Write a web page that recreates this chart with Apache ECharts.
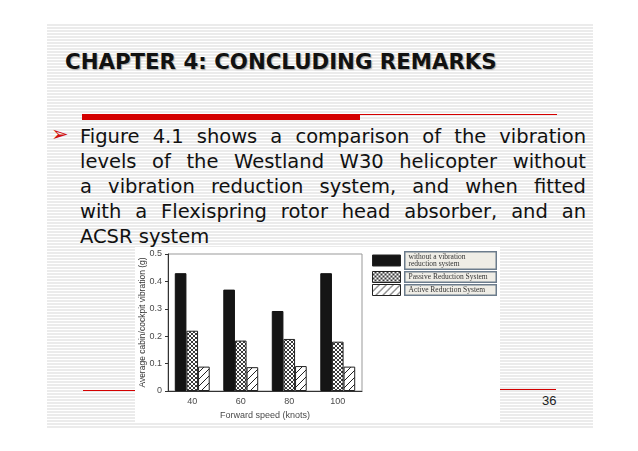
<!DOCTYPE html>
<html lang="en">
<head>
  <meta charset="UTF-8" />
  <title>Chapter 4: Concluding Remarks</title>
  <script src="https://cdn.jsdelivr.net/npm/echarts@6/dist/echarts.min.js"></script>
  <style>
    html, body {
      margin: 0;
      padding: 0;
      width: 638px;
      height: 451px;
      background: #ffffff;
      overflow: hidden;
      font-family: 'DejaVu Sans', Verdana, sans-serif;
    }
    #slide {
      position: absolute;
      left: 47px;
      top: 23px;
      width: 546px;
      height: 406px;
      background: repeating-linear-gradient(to bottom, #ffffff 0px, #ffffff 1px, #ebebeb 1px, #ebebeb 3px);
    }
    #title {
      position: absolute;
      left: 65px;
      top: 49px;
      font-weight: bold;
      font-size: 21.3px;
      color: #111;
      text-shadow: 1px 1px 1px #aaa;
      white-space: nowrap;
    }
    .redbar { position: absolute; background: #d40000; }
    #bullet {
      position: absolute;
      left: 51px;
      top: 122px;
      font-size: 21px;
      color: #d01010;
    }
    #body {
      position: absolute;
      left: 80px;
      top: 124px;
      width: 506px;
      font-size: 19.5px;
      line-height: 25px;
      color: #111;
    }
    #body .ln {
      white-space: nowrap;
      text-align: justify;
      text-align-last: justify;
    }
    #body .ln.last { text-align-last: left; }
    #chart {
      position: absolute;
      left: 135px;
      top: 247px;
      width: 365px;
      height: 175px;
      background: #ffffff;
    }
    #pagenum {
      position: absolute;
      left: 542px;
      top: 393px;
      font-family: 'Liberation Sans', Arial, sans-serif;
      font-size: 13px;
      color: #222;
    }
  </style>
</head>
<body>
  <div id="slide"></div>
  <div id="title">CHAPTER 4: CONCLUDING REMARKS</div>
  <div class="redbar" style="left:82px;top:114px;width:278px;height:6px"></div>
  <div class="redbar" style="left:360px;top:114px;width:197px;height:1px"></div>
  <div id="bullet">➢</div>
  <div id="body">
    <div class="ln">Figure 4.1 shows a comparison of the vibration</div>
    <div class="ln">levels of the Westland W30 helicopter without</div>
    <div class="ln">a vibration reduction system, and when fitted</div>
    <div class="ln">with a Flexispring rotor head absorber, and an</div>
    <div class="ln last">ACSR system</div>
  </div>
  <div class="redbar" style="left:83px;top:390px;width:53px;height:1px"></div>
  <div class="redbar" style="left:500px;top:389px;width:56px;height:1px"></div>
  <div id="pagenum">36</div>
  <div id="chart"></div>
  <script>
    const speeds = ['40', '60', '80', '100'];
    const withoutSystem = [0.43, 0.37, 0.292, 0.43];
    const passiveSystem = [0.22, 0.184, 0.19, 0.18];
    const activeSystem = [0.089, 0.087, 0.091, 0.089];
    const seriesNames = ['without a vibration\nreduction system', 'Passive Reduction System', 'Active Reduction System'];
    const yTicks = [0, 0.1, 0.2, 0.3, 0.4, 0.5];

    // dotted pattern for the passive bars
    function dotPattern() {
      const c = document.createElement('canvas');
      c.width = 4; c.height = 4;
      const ctx = c.getContext('2d');
      ctx.fillStyle = '#3a3a3a';
      ctx.fillRect(0, 0, 4, 4);
      ctx.fillStyle = '#ffffff';
      ctx.fillRect(0, 0, 2, 2);
      ctx.fillRect(2, 2, 2, 2);
      return { image: c, repeat: 'repeat' };
    }

    // diagonal hatch for the active bars
    function hatchPattern() {
      const s = 7;
      const c = document.createElement('canvas');
      c.width = s; c.height = s;
      const ctx = c.getContext('2d');
      ctx.fillStyle = '#ffffff';
      ctx.fillRect(0, 0, s, s);
      ctx.strokeStyle = '#222';
      ctx.lineWidth = 1;
      ctx.beginPath();
      ctx.moveTo(0, s); ctx.lineTo(s, 0);
      ctx.moveTo(-1, 1); ctx.lineTo(1, -1);
      ctx.moveTo(s - 1, s + 1); ctx.lineTo(s + 1, s - 1);
      ctx.stroke();
      return { image: c, repeat: 'repeat' };
    }

    const chart = echarts.init(document.getElementById('chart'));
    const axisFont = { fontFamily: 'Liberation Sans, Arial, sans-serif', fontSize: 9, color: '#4a4a4a' };

    chart.setOption({
      animation: false,
      grid: {
        left: 33, top: 7, width: 194, height: 137,
        outerBoundsMode: 'none', containLabel: false,
        show: true, borderColor: '#999', borderWidth: 1
      },
      legend: {
        orient: 'vertical',
        left: 237,
        top: 4,
        padding: 0,
        icon: 'rect',
        itemWidth: 28,
        itemHeight: 11,
        itemGap: 1,
        selectedMode: false,
        textStyle: {
          fontFamily: 'Liberation Serif, Times New Roman, serif',
          fontSize: 7.5,
          lineHeight: 7,
          color: '#333',
          backgroundColor: '#efede6',
          borderColor: '#6c7c8c',
          borderWidth: 1.5,
          width: 84,
          align: 'center',
          padding: [1, 3]
        },
        data: seriesNames.map(n => ({ name: n, itemStyle: { borderColor: '#222', borderWidth: 1 } }))
      },
      xAxis: {
        type: 'category',
        data: speeds,
        name: 'Forward speed (knots)',
        nameLocation: 'middle',
        nameGap: 19,
        nameTextStyle: axisFont,
        axisLine: { lineStyle: { color: '#333' } },
        axisTick: { show: false },
        axisLabel: Object.assign({ margin: 6 }, axisFont)
      },
      yAxis: {
        type: 'value',
        min: yTicks[0],
        max: yTicks[yTicks.length - 1],
        interval: 0.1,
        name: 'Average cabin/cockpit vibration (g)',
        nameLocation: 'middle',
        nameGap: 21,
        nameMoveOverlap: false,
        nameTextStyle: Object.assign({}, axisFont, { fontSize: 8.5, color: '#333' }),
        splitLine: { show: false },
        axisLine: { show: true, lineStyle: { color: '#333' } },
        axisTick: { show: true, length: 3, lineStyle: { color: '#333' } },
        axisLabel: Object.assign({ margin: 6, formatter: v => String(Math.round(v * 10) / 10) }, axisFont)
      },
      series: [
        {
          name: seriesNames[0], type: 'bar', data: withoutSystem,
          barGap: '0%', barCategoryGap: '28%',
          itemStyle: { color: '#151515', borderColor: '#111', borderWidth: 1 }
        },
        {
          name: seriesNames[1], type: 'bar', data: passiveSystem,
          itemStyle: { color: dotPattern(), borderColor: '#222', borderWidth: 1 }
        },
        {
          name: seriesNames[2], type: 'bar', data: activeSystem,
          itemStyle: { color: hatchPattern(), borderColor: '#222', borderWidth: 1 }
        }
      ]
    });
  </script>
</body>
</html>
